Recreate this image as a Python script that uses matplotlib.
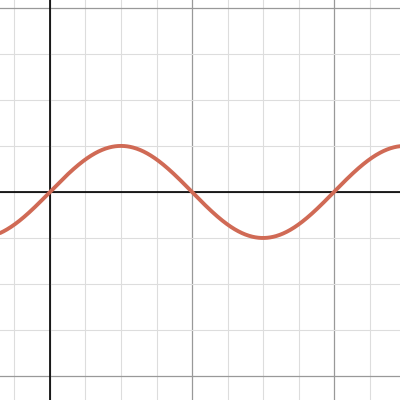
import numpy as np
import matplotlib
matplotlib.use('Agg')
import matplotlib.pyplot as plt
from matplotlib.ticker import MultipleLocator

# view window (graph units)
X_MIN, X_MAX = -1.106, 7.743
Y_MIN, Y_MAX = -4.52, 4.17

x = np.linspace(X_MIN, X_MAX, 800)
y = np.sin(x)

fig = plt.figure(figsize=(4, 4), dpi=100)
ax = fig.add_axes([0, 0, 1, 1])
ax.set_xlim(X_MIN, X_MAX)
ax.set_ylim(Y_MIN, Y_MAX)

ax.xaxis.set_major_locator(MultipleLocator(np.pi))
ax.xaxis.set_minor_locator(MultipleLocator(np.pi / 4))
ax.yaxis.set_major_locator(MultipleLocator(4))
ax.yaxis.set_minor_locator(MultipleLocator(1))
ax.grid(which='minor', color='#dddddd', linewidth=0.8)
ax.grid(which='major', color='#999999', linewidth=0.9)
ax.tick_params(which='both', length=0, labelbottom=False, labelleft=False)
for s in ax.spines.values():
    s.set_visible(False)

ax.axhline(0, color='black', linewidth=1.2)
ax.axvline(0, color='black', linewidth=1.2)

ax.plot(x, y, color='#d06a55', linewidth=2.8, solid_capstyle='round')

fig.savefig('out.png', dpi=100)
